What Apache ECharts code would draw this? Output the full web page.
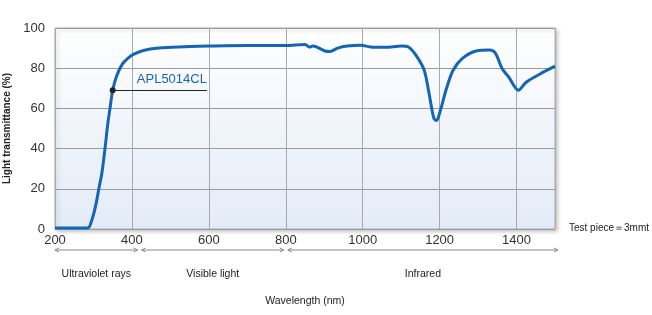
<!DOCTYPE html>
<html><head><meta charset="utf-8">
<script src="https://cdn.jsdelivr.net/npm/echarts@6/dist/echarts.min.js"></script>
<style>html,body{margin:0;padding:0;background:#fff}#c{width:652px;height:315px}</style>
</head><body><div id="c"></div>
<script>
const wavelength = [200,285,295,305,315,322,330,337,343,350,360,375,390,405,430,470,520,600,700,800,850,862,870,880,900,915,935,960,995,1020,1060,1100,1120,1140,1160,1172,1185,1192,1202,1218,1235,1260,1295,1330,1345,1362,1380,1405,1425,1460,1500];
const transmittance = [0.5,0.5,4,11,21,28,40,52,60,69,76,82,85,87,88.8,90,90.6,91,91.3,91.3,91.8,90.5,91,90.6,88.7,88.3,90,91,91.4,90.6,90.4,91,90.4,86,79,68,55,54,59,70,79,85,88.6,89,87.5,80,75.5,69,73,77,81];
const xTicks = [200,400,600,800,1000,1200,1400];
const yTicks = [0,20,40,60,80,100];
const regionNames = ['Ultraviolet rays','Visible light','Infrared'];
const regionFrom = [200,420,800];
const regionTo = [420,800,1500];
const markerPoint = [350,69];
const markerLineEnd = 595;
const productName = 'APL5014CL';

const chart = echarts.init(document.getElementById('c'), null, {renderer:'canvas'});
const blue = '#1466b5';
const option = {
  animation:false,
  grid:{left:55,right:97,top:28,bottom:86,show:true,outerBoundsMode:'none',containLabel:false,
    borderColor:'#b8b8b8',borderWidth:1,
    backgroundColor:{type:'linear',x:0,y:0,x2:0,y2:1,colorStops:[{offset:0,color:'#ffffff'},{offset:1,color:'#e2ebf7'}]},
    shadowColor:'rgba(0,0,0,0.25)',shadowBlur:4,shadowOffsetX:2,shadowOffsetY:2},
  xAxis:{type:'value',min:200,max:1500,interval:200,
    name:'Wavelength (nm)',nameLocation:'middle',nameGap:67,
    nameTextStyle:{fontFamily:'Liberation Sans Narrow, Liberation Sans',fontSize:10.5,color:'#222'},
    axisLine:{show:false},axisTick:{show:false},
    axisLabel:{margin:5,fontFamily:'Liberation Sans',fontSize:13,color:'#333',
      formatter:v=>xTicks.includes(v)?String(v):''},
    splitLine:{show:true,lineStyle:{color:'#a9a9a9',width:1}}},
  yAxis:{type:'value',min:0,max:100,interval:20,
    name:'Light transmittance (%)',nameLocation:'middle',nameGap:39,
    nameTextStyle:{fontFamily:'Liberation Sans Narrow, Liberation Sans',fontSize:10,color:'#222',fontWeight:'bold'},
    axisLine:{show:false},axisTick:{show:false},
    axisLabel:{margin:10,fontFamily:'Liberation Sans',fontSize:13,color:'#333',
      formatter:v=>yTicks.includes(v)?String(v):''},
    splitLine:{show:true,lineStyle:{color:'#9a9a9a',width:1}}},
  series:[{type:'line',data:wavelength.map((w,i)=>[w,transmittance[i]]),
    smooth:0.3,showSymbol:false,lineStyle:{color:blue,width:3},z:3,
    markLine:{silent:true,symbol:['circle','none'],symbolSize:6,z:5,
      lineStyle:{color:'#222',width:1,type:'solid'},
      label:{show:true,position:'insideEndTop',formatter:productName,color:blue,
        fontFamily:'Liberation Sans',fontSize:13,distance:[0,4]},
      data:[[{coord:markerPoint,itemStyle:{color:'#222'}},{coord:[markerLineEnd,markerPoint[1]]}]]}}]
};
chart.setOption(option);

const g = [];
const yArrow = 250;
const arrowColor = '#8a8a8a';
regionNames.forEach((n,i)=>{
  const x1 = chart.convertToPixel({gridIndex:0},[regionFrom[i],0])[0] + (i===0?0:2);
  const x2 = chart.convertToPixel({gridIndex:0},[regionTo[i],0])[0] + (i===2?3:-2);
  g.push({type:'line',shape:{x1:x1,y1:yArrow,x2:x2,y2:yArrow},style:{stroke:arrowColor,lineWidth:1},silent:true});
  g.push({type:'polyline',shape:{points:[[x1+4,yArrow-2],[x1,yArrow],[x1+4,yArrow+2]]},style:{stroke:arrowColor,lineWidth:1,fill:null}});
  g.push({type:'polyline',shape:{points:[[x2-4,yArrow-2],[x2,yArrow],[x2-4,yArrow+2]]},style:{stroke:arrowColor,lineWidth:1,fill:null}});
  const cx = (x1+x2)/2;
  g.push({type:'text',x:cx,y:274,style:{text:n,align:'center',verticalAlign:'middle',
    font:'10.5px "Liberation Sans Narrow", "Liberation Sans"',fill:'#222'}});
});
g.push({type:'text',x:569,y:228,style:{text:'Test piece＝3mmt',align:'left',verticalAlign:'middle',
  font:'10px "Liberation Sans Narrow", "Liberation Sans"',fill:'#222'}});
chart.setOption({graphic:g});
</script>
</body></html>
